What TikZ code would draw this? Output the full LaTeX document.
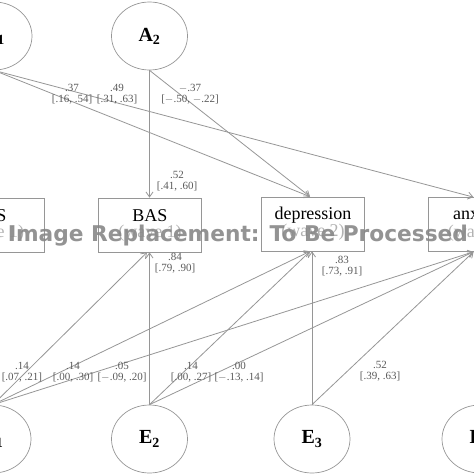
\documentclass[tikz,border=0pt]{standalone}
\usepackage{fontspec}
\setmainfont{Liberation Serif}
\newfontfamily\wmfont{DejaVu Sans}
\usetikzlibrary{shapes.geometric,arrows.meta}
\definecolor{linegray}{RGB}{150,150,150}
\definecolor{labgray}{RGB}{90,90,90}
\definecolor{wmgray}{RGB}{135,135,135}
\begin{document}
\begin{tikzpicture}[x=1pt,y=-1pt,
  latent/.style={ellipse,draw=linegray,line width=0.7pt,minimum width=76pt,minimum height=68pt,inner sep=0pt,font=\fontsize{20}{22}\selectfont\bfseries},
  obs/.style={rectangle,draw=linegray,line width=0.7pt,minimum width=103pt,minimum height=54pt,inner sep=0pt,align=center,font=\fontsize{18}{16}\selectfont},
  sub/.style={text=gray!60},
  pathline/.style={draw=linegray,line width=0.8pt,-{Straight Barb[length=5pt,width=7pt]}},
  est/.style={align=center,text=labgray,font=\fontsize{11}{11.5}\selectfont,inner sep=0pt}]
\useasboundingbox (0,0) rectangle (474,474);
% latent variables
\node[latent] (A1) at (-6,36) {A\textsubscript{1}};
\node[latent] (A2) at (149.5,36) {A\textsubscript{2}};
\node[latent] (E1) at (-7,439) {E\textsubscript{1}};
\node[latent] (E2) at (149.5,439) {E\textsubscript{2}};
\node[latent] (E3) at (312,439) {E\textsubscript{3}};
\node[latent] (E4) at (480,439) {E\textsubscript{4}};
% observed variables
\node[obs] (bis) at (-7.5,225) {BIS\\{\color{gray!60}(wave 1)}};
\node[obs] (bas) at (150,225) {BAS\\{\color{gray!60}(wave 1)}};
\node[obs] (dep) at (313,224) {depression\\{\color{gray!60}(wave 2)}};
\node[obs] (anx) at (479.5,224.5) {anxiety\\{\color{gray!60}(wave 2)}};
% paths from A
\draw[pathline] (A1.south) -- (bis.north);
\draw[pathline] (A1.south) -- ([xshift=-3pt]dep.north);
\draw[pathline] (A1.south) -- ([xshift=-6pt]anx.north);
\draw[pathline] (A2.south) -- (A2.south |- bas.north);
\draw[pathline] (A2.south) -- ([xshift=-3pt]dep.north);
% paths from E
\draw[pathline] (E1.north) -- (bis.south);
\draw[pathline] (E1.north) -- ([xshift=-3pt]bas.south);
\draw[pathline] (E1.north) -- ([xshift=-3pt]dep.south);
\draw[pathline] (E1.north) -- ([xshift=-6pt]anx.south);
\draw[pathline] (E2.north) -- (E2.north |- bas.south);
\draw[pathline] (E2.north) -- ([xshift=-3pt]dep.south);
\draw[pathline] (E2.north) -- ([xshift=-6pt]anx.south);
\draw[pathline] (E3.north) -- (E3.north |- dep.south);
\draw[pathline] (E3.north) -- ([xshift=-6pt]anx.south);
\draw[pathline] (E4.north) -- (E4.north |- anx.south);
% estimates
\node[est] (l1) at (72,94) {.37\\{}[.16, .54]};
\node[est] (l2) at (117,94) {.49\\{}[.31, .63]};
\node[est] (l3) at (190,94) {$-$.37\\{}[$-$.50, $-$.22]};
\node[est] (l4) at (177,181) {.52\\{}[.41, .60]};
\node[est] (l5) at (175,263) {.84\\{}[.79, .90]};
\node[est] (l6) at (342,266) {.83\\{}[.73, .91]};
\node[est] (l7) at (22,372) {.14\\{}[.07, .21]};
\node[est] (l8) at (73,372) {.14\\{}[.00, .30]};
\node[est] (l9) at (122,372) {.05\\{}[$-$.09, .20]};
\node[est] (l10) at (191,372) {.14\\{}[.00, .27]};
\node[est] (l11) at (239,372) {.00\\{}[$-$.13, .14]};
\node[est] (l12) at (380,371) {.52\\{}[.39, .63]};
% overlay text
\node[text=wmgray,opacity=0.9,inner sep=0pt] (wm) at (238,236) {\resizebox{460pt}{!}{\wmfont\bfseries Image Replacement: To Be Processed}};
\end{tikzpicture}
\end{document}
